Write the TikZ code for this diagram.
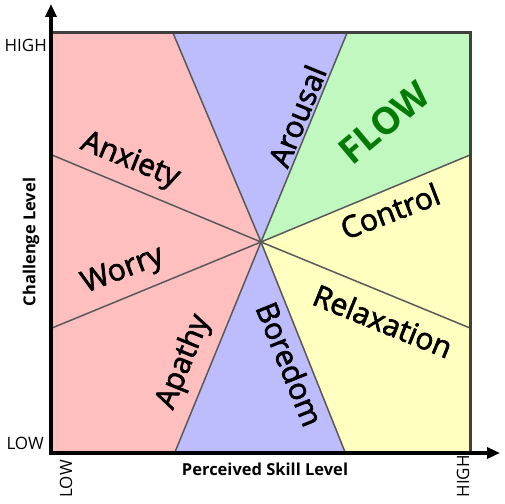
\documentclass[tikz,border=0pt]{standalone}
\usepackage{fontspec}
\setmainfont{Open Sans}
\usetikzlibrary{arrows.meta}
\definecolor{zpink}{HTML}{FFBFBF}
\definecolor{zblue}{HTML}{BDBDFD}
\definecolor{zgreen}{HTML}{C0F8C0}
\definecolor{zyellow}{HTML}{FFFFC0}
\definecolor{zflow}{HTML}{067A06}

\begin{document}
\begin{tikzpicture}[x=1pt,y=-1pt,>={Triangle[length=13pt,width=11pt]},
 sep/.style={draw=black!65,line width=1.5pt},
 st/.style={font=\fontsize{30}{32}\selectfont\addfontfeature{FakeBold=2.2},inner sep=0pt},
 ax/.style={font=\fontsize{16.5}{18}\selectfont\bfseries,inner sep=0pt},
 tk/.style={font=\fontsize{17}{18}\selectfont,inner sep=0pt}]
\useasboundingbox (0,0) rectangle (505,503);
\coordinate (c) at (261,242);
\coordinate (tl) at (52,33);\coordinate (tr) at (470,33);
\coordinate (br) at (470,452);\coordinate (bl) at (52,452);
\coordinate (t1) at (173,33);\coordinate (t2) at (347,33);
\coordinate (r1) at (470,155);\coordinate (r2) at (470,328);
\coordinate (b1) at (345,452);\coordinate (b2) at (175,452);
\coordinate (l1) at (52,328);\coordinate (l2) at (52,155);
\fill[zpink] (c)--(t1)--(tl)--(bl)--(b2)--cycle;
\fill[zblue] (c)--(t1)--(t2)--cycle;
\fill[zgreen] (c)--(t2)--(tr)--(r1)--cycle;
\fill[zyellow] (c)--(r1)--(br)--(b1)--cycle;
\fill[zblue] (c)--(b1)--(b2)--cycle;
\foreach \p in {t1,t2,r1,r2,b1,b2,l1,l2} \draw[sep] (c)--(\p);
\draw[black!75,line width=3pt] (tl)--(tr)--(br);
\coordinate (ya) at (51,4);\coordinate (xa) at (500,453);
\draw[->,line width=4pt] (51,455)--(ya);
\draw[->,line width=4pt] (49,453)--(xa);
\node[st,rotate=-22] (anx) at (130,161) {Anxiety};
\node[st,rotate=68] (aro) at (297,116) {Arousal};
\node[st,rotate=40,text=zflow,font=\fontsize{37}{40}\selectfont\bfseries] (flow) at (384,123) {FLOW};
\node[st,rotate=21] (ctl) at (390,211) {Control};
\node[st,rotate=21] (wor) at (123,271) {Worry};
\node[st,rotate=-22] (rel) at (383,321) {Relaxation};
\node[st,rotate=68] (apa) at (184,362) {Apathy};
\node[st,rotate=-68] (bor) at (290,364) {Boredom};
\node[ax,rotate=90] (cl) at (31,242) {Challenge Level};
\node[ax] (psl) at (265,469) {Perceived Skill Level};
\node[tk,anchor=east] (yh) at (47,45) {HIGH};
\node[tk,anchor=east] (yl) at (44,443) {LOW};
\node[tk,rotate=90,anchor=east] (xl) at (66,460) {LOW};
\node[tk,rotate=90,anchor=east] (xh) at (463,455) {HIGH};
\end{tikzpicture}
\end{document}
